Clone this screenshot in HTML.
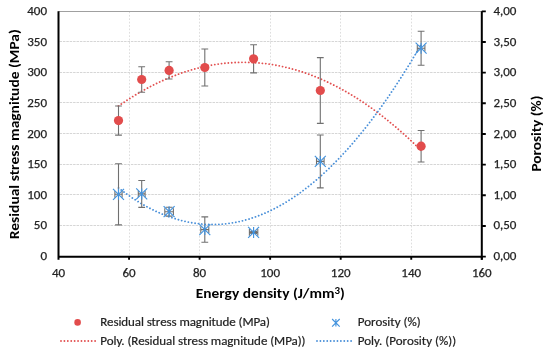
<!DOCTYPE html><html><head><meta charset="utf-8"><style>html,body{margin:0;padding:0;background:#fff;overflow:hidden}svg{display:block}</style></head><body>
<svg width="550" height="355" viewBox="0 0 550 355">
<rect width="550" height="355" fill="#fff"/>
<path d="M59.50 225.50H480.80M59.50 194.50H480.80M59.50 164.50H480.80M59.50 133.50H480.80M59.50 102.50H480.80M59.50 72.50H480.80M59.50 41.50H480.80" stroke="#d6d6d6" stroke-width="1" stroke-dasharray="2.5 0.9" fill="none"/>
<path d="M129.50 11.50V255.15M199.50 11.50V255.15M270.50 11.50V255.15M340.50 11.50V255.15M411.50 11.50V255.15" stroke="#dedede" stroke-width="1" stroke-dasharray="1.7 1.7" fill="none"/>
<path d="M58.5 11.5H481.8" stroke="#a0a0a0" stroke-width="1.2" fill="none"/>
<path d="M58.5 11.200000000000001V259.7M57.5 256.7H482.8M481.8 11.200000000000001V259.7" stroke="#000" stroke-width="2" fill="none"/>
<path d="M129.05 256.7V259.7M199.60 256.7V259.7M270.15 256.7V259.7M340.70 256.7V259.7M411.25 256.7V259.7M481.80 256.7V259.7M481.8 256.60H485.8M481.8 225.94H485.8M481.8 195.29H485.8M481.8 164.63H485.8M481.8 133.97H485.8M481.8 103.32H485.8M481.8 72.66H485.8M481.8 42.01H485.8M481.8 11.35H485.8" stroke="#000" stroke-width="1.9" fill="none"/>
<polyline points="118.50,106.01 121.04,104.25 123.59,102.52 126.13,100.84 128.67,99.19 131.21,97.57 133.76,95.99 136.30,94.45 138.84,92.95 141.39,91.48 143.93,90.04 146.47,88.64 149.01,87.28 151.56,85.96 154.10,84.67 156.64,83.41 159.19,82.20 161.73,81.02 164.27,79.87 166.81,78.76 169.36,77.69 171.90,76.65 174.44,75.65 176.99,74.69 179.53,73.76 182.07,72.87 184.61,72.02 187.16,71.20 189.70,70.41 192.24,69.67 194.79,68.95 197.33,68.28 199.87,67.64 202.41,67.04 204.96,66.47 207.50,65.94 210.04,65.45 212.59,64.99 215.13,64.57 217.67,64.18 220.21,63.83 222.76,63.52 225.30,63.24 227.84,63.00 230.39,62.80 232.93,62.63 235.47,62.50 238.01,62.40 240.56,62.34 243.10,62.32 245.64,62.33 248.19,62.38 250.73,62.46 253.27,62.58 255.81,62.74 258.36,62.93 260.90,63.16 263.44,63.42 265.99,63.72 268.53,64.06 271.07,64.44 273.61,64.85 276.16,65.29 278.70,65.77 281.24,66.29 283.79,66.85 286.33,67.44 288.87,68.06 291.41,68.73 293.96,69.42 296.50,70.16 299.04,70.93 301.59,71.74 304.13,72.58 306.67,73.46 309.21,74.38 311.76,75.33 314.30,76.32 316.84,77.34 319.39,78.40 321.93,79.50 324.47,80.63 327.01,81.80 329.56,83.00 332.10,84.24 334.64,85.52 337.19,86.83 339.73,88.18 342.27,89.57 344.81,90.99 347.36,92.45 349.90,93.94 352.44,95.47 354.99,97.04 357.53,98.64 360.07,100.28 362.61,101.96 365.16,103.67 367.70,105.41 370.24,107.20 372.79,109.02 375.33,110.87 377.87,112.76 380.41,114.69 382.96,116.66 385.50,118.66 388.04,120.69 390.59,122.77 393.13,124.87 395.67,127.02 398.21,129.20 400.76,131.42 403.30,133.67 405.84,135.96 408.39,138.29 410.93,140.65 413.47,143.04 416.01,145.48 418.56,147.95 421.10,150.46" fill="none" stroke="#e25050" stroke-width="1.85" stroke-dasharray="0.01 3.4" stroke-linecap="round"/>
<polyline points="118.50,187.98 121.04,189.93 123.59,191.82 126.13,193.67 128.67,195.46 131.21,197.19 133.76,198.88 136.30,200.51 138.84,202.08 141.39,203.60 143.93,205.07 146.47,206.49 149.01,207.85 151.56,209.16 154.10,210.41 156.64,211.61 159.19,212.76 161.73,213.86 164.27,214.90 166.81,215.89 169.36,216.82 171.90,217.70 174.44,218.53 176.99,219.30 179.53,220.02 182.07,220.69 184.61,221.30 187.16,221.86 189.70,222.37 192.24,222.82 194.79,223.22 197.33,223.57 199.87,223.86 202.41,224.10 204.96,224.29 207.50,224.42 210.04,224.50 212.59,224.52 215.13,224.50 217.67,224.41 220.21,224.28 222.76,224.09 225.30,223.85 227.84,223.55 230.39,223.20 232.93,222.80 235.47,222.35 238.01,221.84 240.56,221.27 243.10,220.66 245.64,219.99 248.19,219.27 250.73,218.49 253.27,217.66 255.81,216.78 258.36,215.84 260.90,214.85 263.44,213.80 265.99,212.71 268.53,211.56 271.07,210.35 273.61,209.10 276.16,207.78 278.70,206.42 281.24,205.00 283.79,203.53 286.33,202.00 288.87,200.43 291.41,198.79 293.96,197.11 296.50,195.37 299.04,193.58 301.59,191.73 304.13,189.83 306.67,187.88 309.21,185.87 311.76,183.81 314.30,181.70 316.84,179.54 319.39,177.32 321.93,175.04 324.47,172.71 327.01,170.33 329.56,167.90 332.10,165.41 334.64,162.87 337.19,160.28 339.73,157.63 342.27,154.93 344.81,152.17 347.36,149.37 349.90,146.51 352.44,143.59 354.99,140.62 357.53,137.60 360.07,134.52 362.61,131.40 365.16,128.21 367.70,124.98 370.24,121.69 372.79,118.35 375.33,114.95 377.87,111.50 380.41,108.00 382.96,104.44 385.50,100.83 388.04,97.17 390.59,93.45 393.13,89.68 395.67,85.86 398.21,81.98 400.76,78.05 403.30,74.06 405.84,70.03 408.39,65.93 410.93,61.79 413.47,57.59 416.01,53.34 418.56,49.04 421.10,44.68" fill="none" stroke="#4a90d9" stroke-width="1.85" stroke-dasharray="0.01 3.4" stroke-linecap="round"/>
<path d="M118.50 105.95V135.15M115.10 105.95H121.90M115.10 135.15H121.90M141.70 66.80V92.20M138.30 66.80H145.10M138.30 92.20H145.10M169.10 61.80V79.00M165.70 61.80H172.50M165.70 79.00H172.50M204.80 49.05V85.95M201.40 49.05H208.20M201.40 85.95H208.20M253.60 44.75V72.85M250.20 44.75H257.00M250.20 72.85H257.00M320.30 57.65V123.35M316.90 57.65H323.70M316.90 123.35H323.70M421.10 130.45V161.95M417.70 130.45H424.50M417.70 161.95H424.50M118.50 163.75V224.85M115.10 163.75H121.90M115.10 224.85H121.90M114.90 194.30H122.10M114.90 190.90V197.70M122.10 190.90V197.70M141.70 180.45V207.35M138.30 180.45H145.10M138.30 207.35H145.10M138.30 193.90H145.10M138.30 190.50V197.30M145.10 190.50V197.30M169.10 207.30V216.10M165.70 207.30H172.50M165.70 216.10H172.50M164.80 211.70H173.40M164.80 208.30V215.10M173.40 208.30V215.10M204.80 216.90V242.30M201.40 216.90H208.20M201.40 242.30H208.20M200.80 229.60H208.80M200.80 226.20V233.00M208.80 226.20V233.00M253.60 231.25V233.55M250.20 231.25H257.00M250.20 233.55H257.00M249.40 232.40H257.80M249.40 229.00V235.80M257.80 229.00V235.80M320.30 134.95V187.85M316.90 134.95H323.70M316.90 187.85H323.70M316.50 161.40H324.10M316.50 158.00V164.80M324.10 158.00V164.80M421.10 31.20V65.20M417.70 31.20H424.50M417.70 65.20H424.50M417.30 48.20H424.90M417.30 44.80V51.60M424.90 44.80V51.60" stroke="#707070" stroke-width="1.1" fill="none"/>
<circle cx="118.50" cy="120.55" r="4.6" fill="#e24c4c"/>
<circle cx="141.70" cy="79.50" r="4.6" fill="#e24c4c"/>
<circle cx="169.10" cy="70.40" r="4.6" fill="#e24c4c"/>
<circle cx="204.80" cy="67.50" r="4.6" fill="#e24c4c"/>
<circle cx="253.60" cy="58.80" r="4.6" fill="#e24c4c"/>
<circle cx="320.30" cy="90.50" r="4.6" fill="#e24c4c"/>
<circle cx="421.10" cy="146.20" r="4.6" fill="#e24c4c"/>
<path d="M113.00 188.80L124.00 199.80M124.00 188.80L113.00 199.80M118.50 188.80V199.80M136.20 188.40L147.20 199.40M147.20 188.40L136.20 199.40M141.70 188.40V199.40M163.60 206.20L174.60 217.20M174.60 206.20L163.60 217.20M169.10 206.20V217.20M199.30 224.10L210.30 235.10M210.30 224.10L199.30 235.10M204.80 224.10V235.10M248.10 226.90L259.10 237.90M259.10 226.90L248.10 237.90M253.60 226.90V237.90M314.80 155.90L325.80 166.90M325.80 155.90L314.80 166.90M320.30 155.90V166.90M415.60 42.70L426.60 53.70M426.60 42.70L415.60 53.70M421.10 42.70V53.70" stroke="#4393de" stroke-width="1.15" fill="none"/>
<text x="47" textLength="6.59" y="260.15" text-anchor="end" font-family="Carlito, 'Liberation Sans', sans-serif" font-size="13" fill="#222" stroke="#222" stroke-width="0.25">0</text>
<text x="493.4" y="260.15" textLength="23.02" font-family="Carlito, 'Liberation Sans', sans-serif" font-size="13" fill="#222" stroke="#222" stroke-width="0.25">0,00</text>
<text x="47" textLength="13.19" y="229.49" text-anchor="end" font-family="Carlito, 'Liberation Sans', sans-serif" font-size="13" fill="#222" stroke="#222" stroke-width="0.25">50</text>
<text x="493.4" y="229.49" textLength="23.02" font-family="Carlito, 'Liberation Sans', sans-serif" font-size="13" fill="#222" stroke="#222" stroke-width="0.25">0,50</text>
<text x="47" textLength="19.78" y="198.84" text-anchor="end" font-family="Carlito, 'Liberation Sans', sans-serif" font-size="13" fill="#222" stroke="#222" stroke-width="0.25">100</text>
<text x="493.4" y="198.84" textLength="23.02" font-family="Carlito, 'Liberation Sans', sans-serif" font-size="13" fill="#222" stroke="#222" stroke-width="0.25">1,00</text>
<text x="47" textLength="19.78" y="168.18" text-anchor="end" font-family="Carlito, 'Liberation Sans', sans-serif" font-size="13" fill="#222" stroke="#222" stroke-width="0.25">150</text>
<text x="493.4" y="168.18" textLength="23.02" font-family="Carlito, 'Liberation Sans', sans-serif" font-size="13" fill="#222" stroke="#222" stroke-width="0.25">1,50</text>
<text x="47" textLength="19.78" y="137.52" text-anchor="end" font-family="Carlito, 'Liberation Sans', sans-serif" font-size="13" fill="#222" stroke="#222" stroke-width="0.25">200</text>
<text x="493.4" y="137.52" textLength="23.02" font-family="Carlito, 'Liberation Sans', sans-serif" font-size="13" fill="#222" stroke="#222" stroke-width="0.25">2,00</text>
<text x="47" textLength="19.78" y="106.87" text-anchor="end" font-family="Carlito, 'Liberation Sans', sans-serif" font-size="13" fill="#222" stroke="#222" stroke-width="0.25">250</text>
<text x="493.4" y="106.87" textLength="23.02" font-family="Carlito, 'Liberation Sans', sans-serif" font-size="13" fill="#222" stroke="#222" stroke-width="0.25">2,50</text>
<text x="47" textLength="19.78" y="76.21" text-anchor="end" font-family="Carlito, 'Liberation Sans', sans-serif" font-size="13" fill="#222" stroke="#222" stroke-width="0.25">300</text>
<text x="493.4" y="76.21" textLength="23.02" font-family="Carlito, 'Liberation Sans', sans-serif" font-size="13" fill="#222" stroke="#222" stroke-width="0.25">3,00</text>
<text x="47" textLength="19.78" y="45.56" text-anchor="end" font-family="Carlito, 'Liberation Sans', sans-serif" font-size="13" fill="#222" stroke="#222" stroke-width="0.25">350</text>
<text x="493.4" y="45.56" textLength="23.02" font-family="Carlito, 'Liberation Sans', sans-serif" font-size="13" fill="#222" stroke="#222" stroke-width="0.25">3,50</text>
<text x="47" textLength="19.78" y="14.90" text-anchor="end" font-family="Carlito, 'Liberation Sans', sans-serif" font-size="13" fill="#222" stroke="#222" stroke-width="0.25">400</text>
<text x="493.4" y="14.90" textLength="23.02" font-family="Carlito, 'Liberation Sans', sans-serif" font-size="13" fill="#222" stroke="#222" stroke-width="0.25">4,00</text>
<text x="58.50" y="277" text-anchor="middle" textLength="13.19" font-family="Carlito, 'Liberation Sans', sans-serif" font-size="13" fill="#222" stroke="#222" stroke-width="0.25">40</text>
<text x="129.05" y="277" text-anchor="middle" textLength="13.19" font-family="Carlito, 'Liberation Sans', sans-serif" font-size="13" fill="#222" stroke="#222" stroke-width="0.25">60</text>
<text x="199.60" y="277" text-anchor="middle" textLength="13.19" font-family="Carlito, 'Liberation Sans', sans-serif" font-size="13" fill="#222" stroke="#222" stroke-width="0.25">80</text>
<text x="270.15" y="277" text-anchor="middle" textLength="19.78" font-family="Carlito, 'Liberation Sans', sans-serif" font-size="13" fill="#222" stroke="#222" stroke-width="0.25">100</text>
<text x="340.70" y="277" text-anchor="middle" textLength="19.78" font-family="Carlito, 'Liberation Sans', sans-serif" font-size="13" fill="#222" stroke="#222" stroke-width="0.25">120</text>
<text x="411.25" y="277" text-anchor="middle" textLength="19.78" font-family="Carlito, 'Liberation Sans', sans-serif" font-size="13" fill="#222" stroke="#222" stroke-width="0.25">140</text>
<text x="481.80" y="277" text-anchor="middle" textLength="19.78" font-family="Carlito, 'Liberation Sans', sans-serif" font-size="13" fill="#222" stroke="#222" stroke-width="0.25">160</text>
<text transform="translate(18.6,134.2) rotate(-90)" text-anchor="middle" textLength="210" lengthAdjust="spacingAndGlyphs" font-family="Carlito, 'Liberation Sans', sans-serif" font-size="13.4" font-weight="bold" fill="#000">Residual stress magnitude (MPa)</text>
<text transform="translate(540.8,133.6) rotate(-90)" text-anchor="middle" textLength="76" lengthAdjust="spacingAndGlyphs" font-family="Carlito, 'Liberation Sans', sans-serif" font-size="13.4" font-weight="bold" fill="#000">Porosity (%)</text>
<text x="270.3" y="298" text-anchor="middle" textLength="149" lengthAdjust="spacingAndGlyphs" font-family="Carlito, 'Liberation Sans', sans-serif" font-size="13.4" font-weight="bold" fill="#000">Energy density (J/mm<tspan dy="-3.7" font-size="9.5">3</tspan><tspan dy="3.7">)</tspan></text>
<circle cx="77.6" cy="322.4" r="3.3" fill="#e24c4c"/>
<text x="100.3" y="325.6" textLength="169.6" font-family="Carlito, 'Liberation Sans', sans-serif" font-size="13" fill="#222" stroke="#222" stroke-width="0.2">Residual stress magnitude (MPa)</text>
<line x1="61" y1="341" x2="96.5" y2="341" stroke="#e25050" stroke-width="1.85" stroke-dasharray="0.01 3.4" stroke-linecap="round"/>
<text x="100.3" y="344.6" textLength="205.2" font-family="Carlito, 'Liberation Sans', sans-serif" font-size="13" fill="#222" stroke="#222" stroke-width="0.2">Poly. (Residual stress magnitude (MPa))</text>
<path d="M332.09999999999997 319.0L339.7 326.6M339.7 319.0L332.09999999999997 326.6M335.9 319.0V326.6" stroke="#4393de" stroke-width="1.15" fill="none"/>
<text x="357.8" y="325.6" textLength="62.92" font-family="Carlito, 'Liberation Sans', sans-serif" font-size="13" fill="#222" stroke="#222" stroke-width="0.2">Porosity (%)</text>
<line x1="317" y1="341" x2="352.5" y2="341" stroke="#4a90d9" stroke-width="1.85" stroke-dasharray="0.01 3.4" stroke-linecap="round"/>
<text x="357.8" y="344.6" textLength="98.34" font-family="Carlito, 'Liberation Sans', sans-serif" font-size="13" fill="#222" stroke="#222" stroke-width="0.2">Poly. (Porosity (%))</text>
</svg></body></html>
